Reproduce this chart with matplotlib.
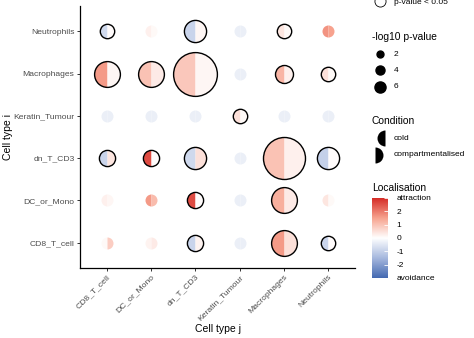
import numpy as np
import matplotlib.pyplot as plt
from matplotlib.colors import LinearSegmentedColormap, Normalize

plt.rcParams['font.family'] = ['Liberation Sans', 'DejaVu Sans']

cell_types = ["CD8_T_cell", "DC_or_Mono", "dn_T_CD3", "Keratin_Tumour", "Macrophages", "Neutrophils"]

# rows: cell type i (bottom -> top), cols: cell type j (left -> right)
cold = np.array([
    [0.10, 0.20, -0.90, -0.35, 1.60, -0.90],   # CD8_T_cell
    [0.25, 1.60, 2.60, -0.35, 1.30, 0.40],     # DC_or_Mono
    [-0.90, 2.60, -0.80, -0.35, 1.00, -1.00],  # dn_T_CD3
    [-0.35, -0.35, -0.35, 0.50, -0.35, -0.35], # Keratin_Tumour
    [1.60, 1.00, 0.90, -0.35, 1.20, 0.50],     # Macrophages
    [-0.80, 0.25, -0.90, -0.35, 0.40, 1.70],   # Neutrophils
])
compartmentalised = np.array([
    [0.80, 0.35, 0.20, -0.35, 0.50, 0.05],
    [0.15, 1.10, 0.05, -0.35, 0.35, 0.10],
    [0.40, 0.05, 0.50, -0.35, 0.25, 0.05],
    [-0.35, -0.35, -0.35, 0.10, -0.35, -0.35],
    [0.15, 0.35, 0.15, -0.35, 0.25, 0.10],
    [0.05, 0.10, 0.15, -0.35, 0.10, 1.50],
])
neglog10_p = np.array([
    [1.0, 1.0, 1.7, 1.0, 3.3, 1.4],
    [1.0, 1.0, 1.7, 1.0, 3.3, 1.0],
    [1.7, 1.7, 2.7, 1.0, 6.0, 2.7],
    [1.0, 1.0, 1.0, 1.4, 1.0, 1.0],
    [3.3, 3.3, 6.3, 1.0, 2.0, 1.4],
    [1.4, 1.0, 2.7, 1.0, 1.4, 1.0],
])
legend_sizes = [2, 4, 6]

# white-centred diverging scale, mid stops mimic Lab interpolation
cmap = LinearSegmentedColormap.from_list(
    "loc", [(0.0, "#4469b1"), (0.25, "#a6b8de"), (0.5, "#ffffff"),
            (0.75, "#f7a38f"), (1.0, "#d52b26")])
norm = Normalize(-3, 3)


def marker_pt(s):
    # radius in px -> marker diameter in points (dpi 100)
    return 2 * (3 + 3 * s) * 0.72


fig = plt.figure(figsize=(4.74, 3.38), dpi=100)
ax = fig.add_axes([80 / 474, 1 - 268 / 338, 275 / 474, 262 / 338])

n = len(cell_types)
for i in range(n):
    for j in range(n):
        ms = marker_pt(neglog10_p[i, j])
        ax.plot(j + 1, i + 1, marker="o", fillstyle="left", markersize=ms,
                markerfacecolor=cmap(norm(cold[i, j])),
                markerfacecoloralt=cmap(norm(compartmentalised[i, j])),
                markeredgewidth=0, linestyle="none")
        if neglog10_p[i, j] > -np.log10(0.05):
            ax.plot(j + 1, i + 1, marker="o", markersize=ms, markerfacecolor="none",
                    markeredgecolor="black", markeredgewidth=1.0, linestyle="none")

ax.set_xlim(0.4, 6.6)
ax.set_ylim(0.4, 6.6)
ax.set_xticks(range(1, n + 1))
ax.set_yticks(range(1, n + 1))
ax.set_xticklabels(cell_types, rotation=45, ha="right", va="top", rotation_mode="anchor")
ax.set_yticklabels(cell_types)
ax.tick_params(labelsize=6.1, labelcolor="#4d4d4d", color="#333333", length=2.5, width=0.7, pad=1.5)
for side in ["top", "right"]:
    ax.spines[side].set_visible(False)
for side in ["left", "bottom"]:
    ax.spines[side].set_linewidth(0.9)
ax.set_xlabel("Cell type j", fontsize=7.5)
ax.set_ylabel("Cell type i", fontsize=7.5)
ax.xaxis.set_label_coords(0.5, -0.215)
ax.yaxis.set_label_coords(-0.244, 0.5)

# legends drawn in pixel coordinates
lg = fig.add_axes([0, 0, 1, 1])
lg.set_xlim(0, 474)
lg.set_ylim(338, 0)
lg.axis("off")
lg.patch.set_alpha(0)

lg.plot(380, 1, marker="o", markersize=8, markerfacecolor="none",
        markeredgecolor="black", markeredgewidth=0.6)
lg.text(394, 2, "p-value < 0.05", fontsize=6, va="center")

lg.text(372, 37, "-log10 p-value", fontsize=7.4, va="center")
for k, (val, yy) in enumerate(zip(legend_sizes, [54, 70, 87])):
    lg.plot(380, yy, marker="o", markersize=[5, 6.5, 8][k], color="black")
    lg.text(394, yy, str(val), fontsize=6, va="center")

lg.text(372, 121, "Condition", fontsize=7.4, va="center")
lg.plot(385, 138, marker="o", fillstyle="left", markersize=11.5, markerfacecolor="black",
        markerfacecoloralt="none", markeredgewidth=0)
lg.plot(375, 155, marker="o", fillstyle="right", markersize=11.5, markerfacecolor="black",
        markerfacecoloralt="none", markeredgewidth=0)
lg.text(394, 138, "cold", fontsize=6, va="center")
lg.text(394, 155, "compartmentalised", fontsize=6, va="center")

lg.text(372, 188, "Localisation", fontsize=7.4, va="center")

cax = fig.add_axes([372 / 474, 1 - 278 / 338, 16 / 474, 80 / 338])
grad = np.linspace(-3, 3, 256).reshape(-1, 1)
cax.imshow(grad, cmap=cmap, norm=norm, aspect="auto", origin="lower", extent=[0, 1, -3, 3])
cax.set_xticks([])
cax.yaxis.tick_right()
cax.set_yticks([-3, -2, -1, 0, 1, 2, 3])
cax.set_yticklabels(["avoidance", "-2", "-1", "0", "1", "2", "attraction"])
cax.tick_params(axis="y", direction="in", color="white", length=3, width=0.6,
                labelsize=6, pad=6)
for sp in cax.spines.values():
    sp.set_visible(False)

fig.savefig("out.png", dpi=100)
